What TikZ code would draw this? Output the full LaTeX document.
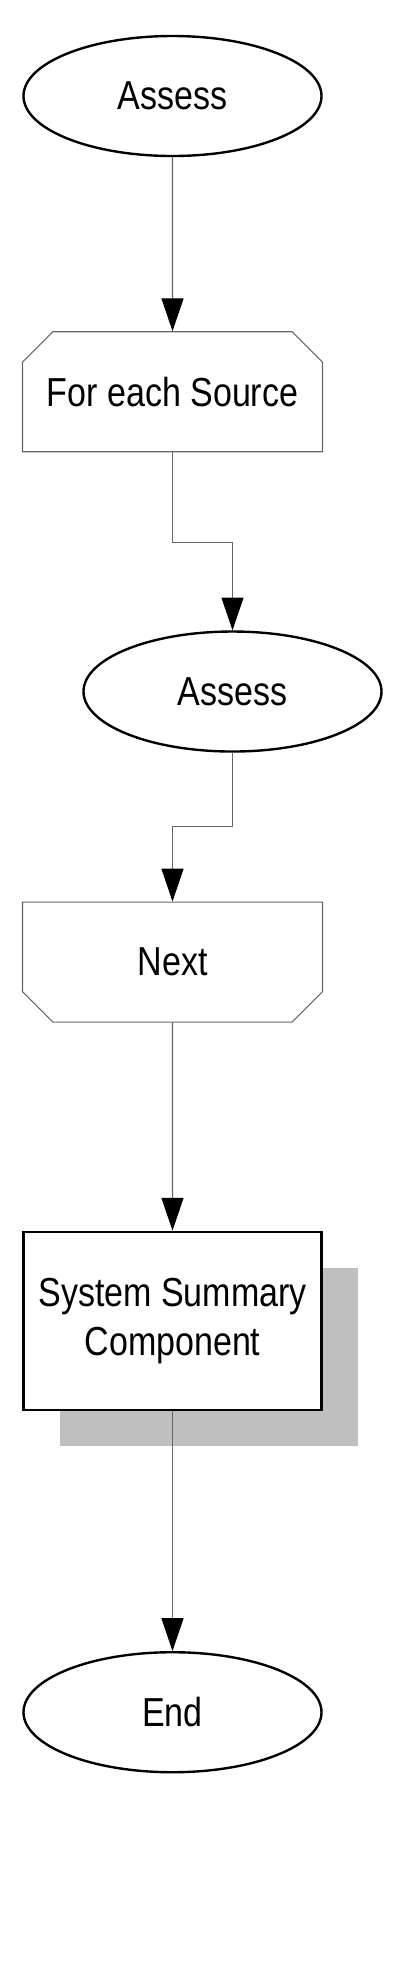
\documentclass[tikz,border=0pt]{standalone}
\usepackage{fontspec}
\setmainfont[FakeStretch=0.84]{Liberation Sans}
\usetikzlibrary{positioning, shapes.geometric, shapes.misc, shadows, arrows.meta}

\begin{document}
\begin{tikzpicture}[
  terminal/.style={ellipse, draw, line width=1.7pt, minimum width=7.45cm, minimum height=3cm, font=\fontsize{28.8}{35}\selectfont},
  loopbox/.style={chamfered rectangle, draw=black!60, line width=0.8pt, chamfered rectangle xsep=0.4cm, chamfered rectangle ysep=0.36cm, minimum width=7.5cm, minimum height=3cm, font=\fontsize{28.8}{35}\selectfont},
  component/.style={rectangle, draw, fill=white, line width=1.7pt, minimum width=7.45cm, minimum height=4.45cm, align=center, font=\fontsize{28.8}{35}\selectfont, drop shadow={shadow xshift=0.9cm, shadow yshift=-0.9cm, fill=black!25, opacity=1}},
  flow/.style={draw=black!60, line width=0.8pt, -{Triangle[length=0.82cm, width=0.55cm, color=black]}}
]
\useasboundingbox (0,0) rectangle (10.075,-49.525);

% Nodes
\node[terminal] (assess) at (4.3125,-2.4) {Assess};
\node[loopbox, chamfered rectangle corners={north west, north east}, below=4.35cm of assess] (foreach) {For each Source};
\node[terminal, below=4.45cm of foreach, xshift=1.5cm] (assesssrc) {Assess};
\node[loopbox, chamfered rectangle corners={south west, south east}, below=3.72cm of assesssrc, xshift=-1.5cm] (next) {Next};
\node[component, below=5.2cm of next] (summary) {System Summary\\Component};
\node[terminal, below=6cm of summary] (end) {End};

% Connections
\draw[flow] (assess) -- (foreach);
\draw[flow] (foreach.south) -- ++(0,-2.25) -| (assesssrc);
\draw[flow] (assesssrc.south) -- ++(0,-1.85) -| (next);
\draw[flow] (next) -- (summary);
\draw[flow] (summary) -- (end);

\end{tikzpicture}
\end{document}
